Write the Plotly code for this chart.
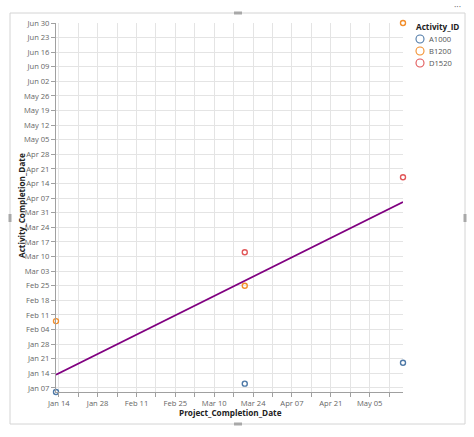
import numpy as np
import pandas as pd
import plotly.graph_objects as go

# ---- data ----
activity_ids = ["A1000", "B1200", "D1520"]
series_colors = ["#4E79A7", "#F28E2B", "#E15759"]
a1000_project = ["2020-01-13", "2020-03-21", "2020-05-17"]
a1000_activity = ["2020-01-05", "2020-01-09", "2020-01-19"]
b1200_project = ["2020-01-13", "2020-03-21", "2020-05-17"]
b1200_activity = ["2020-02-08", "2020-02-25", "2020-06-30"]
d1520_project = ["2020-03-21", "2020-05-17"]
d1520_activity = ["2020-03-12", "2020-04-17"]
x_title = "Project_Completion_Date"
y_title = "Activity_Completion_Date"
legend_title = "Activity_ID"

series = [(a1000_project, a1000_activity), (b1200_project, b1200_activity), (d1520_project, d1520_activity)]

W, H = 474, 437
L, R, T, B = 56, 71, 23, 45
PW, PH = W - L - R, H - T - B


def px(xp):
    return (xp - L) / PW


def py(yp):
    return (H - B - yp) / PH


fig = go.Figure()
for name, col, (xs, ys) in zip(activity_ids, series_colors, series):
    fig.add_trace(go.Scatter(
        x=xs, y=ys, mode="markers", name=name, showlegend=False, cliponaxis=False,
        marker=dict(symbol="circle-open", size=5, color=col, line=dict(width=1.4, color=col)),
    ))

# trend line (least squares over all points)
all_x = pd.to_datetime(sum([list(s[0]) for s in series], []))
all_y = pd.to_datetime(sum([list(s[1]) for s in series], []))
epoch = pd.Timestamp("1970-01-01")
xd = (all_x - epoch) / pd.Timedelta(days=1)
yd = (all_y - epoch) / pd.Timedelta(days=1)
k, c = np.polyfit(xd.values, yd.values, 1)
lx = np.array([xd.min(), xd.max()])
ly = k * lx + c
fig.add_trace(go.Scatter(
    x=epoch + pd.to_timedelta(lx, unit="D"),
    y=epoch + pd.to_timedelta(ly, unit="D"),
    mode="lines", line=dict(color="#800080", width=1.8), showlegend=False, cliponaxis=False,
))

WEEK = 7 * 86400000
grid = "#e4e4e4"
axcol = "#a0a0a0"
FONT = "Open Sans, DejaVu Sans, sans-serif"
tickfont = dict(family=FONT, size=7.6, color="#666666")

fig.update_xaxes(
    type="date", range=[min(all_x), max(all_x)], tick0="2020-01-14", dtick=2 * WEEK,
    tickformat="%b %d", showgrid=True, gridcolor=grid, gridwidth=1,
    showline=True, linecolor=axcol, ticks="outside", ticklen=4, tickcolor=axcol,
    tickfont=tickfont, zeroline=False,
    minor=dict(tick0="2020-01-14", dtick=WEEK, showgrid=True, gridcolor=grid, ticks="outside",
               ticklen=4, tickcolor=axcol),
)
fig.update_yaxes(
    type="date", range=["2020-01-05", "2020-06-30"], tick0="2020-01-07", dtick=WEEK,
    tickformat="%b %d", showgrid=True, gridcolor=grid, gridwidth=1,
    showline=True, linecolor=axcol, ticks="outside", ticklen=4, tickcolor=axcol,
    tickfont=tickfont, zeroline=False,
)

ann = []
shapes = []
titlefont = dict(family=FONT, size=8.2, color="#222222")
ann.append(dict(text="<b>" + x_title + "</b>", x=px(230), y=0, xref="paper", yref="paper",
                xanchor="center", yanchor="middle", yshift=-20, showarrow=False, font=titlefont))
ann.append(dict(text="<b>" + y_title + "</b>", x=0, y=py(206), xref="paper", yref="paper",
                xanchor="center", yanchor="middle", xshift=-35, textangle=-90, showarrow=False, font=titlefont))

# manual legend
ann.append(dict(text="<b>" + legend_title + "</b>", x=px(414), y=py(27), xref="paper", yref="paper",
                xanchor="left", yanchor="middle", showarrow=False, font=titlefont))
for i, (name, col) in enumerate(zip(activity_ids, series_colors)):
    yy = py(39 + 12 * i)
    shapes.append(dict(type="circle", xref="paper", yref="paper", xsizemode="pixel", ysizemode="pixel",
                       xanchor=px(420), yanchor=yy, x0=-4, x1=4, y0=-4, y1=4,
                       line=dict(color=col, width=1.1)))
    ann.append(dict(text=name, x=px(427), y=yy, xref="paper", yref="paper", xanchor="left",
                    yanchor="middle", showarrow=False,
                    font=dict(family=FONT, size=7.6, color="#555555")))

# visual container border and handles
shapes.append(dict(type="rect", xref="paper", yref="paper", x0=px(10), x1=px(465), y0=py(424), y1=py(13),
                   line=dict(color="#d4d4d4", width=1), layer="below"))
for (cx, cy, w, h) in [(238, 13, 8, 3), (238, 424, 8, 3), (10, 218, 3, 8), (465, 218, 3, 8)]:
    shapes.append(dict(type="rect", xref="paper", yref="paper", x0=px(cx - w / 2), x1=px(cx + w / 2),
                       y0=py(cy + h / 2), y1=py(cy - h / 2), line=dict(width=0), fillcolor="#a8a8a8"))
ann.append(dict(text="···", x=px(458), y=py(6), xref="paper", yref="paper", xanchor="center",
                yanchor="middle", showarrow=False, font=dict(family=FONT, size=9, color="#666666")))

fig.update_layout(
    width=W, height=H, margin=dict(l=L, r=R, t=T, b=B, autoexpand=False),
    plot_bgcolor="white", paper_bgcolor="white", showlegend=False,
    annotations=ann, shapes=shapes,
)
fig.write_html("out.html", config={"displayModeBar": False},
               post_script="document.body.style.margin='0';document.body.style.overflow='hidden';")
